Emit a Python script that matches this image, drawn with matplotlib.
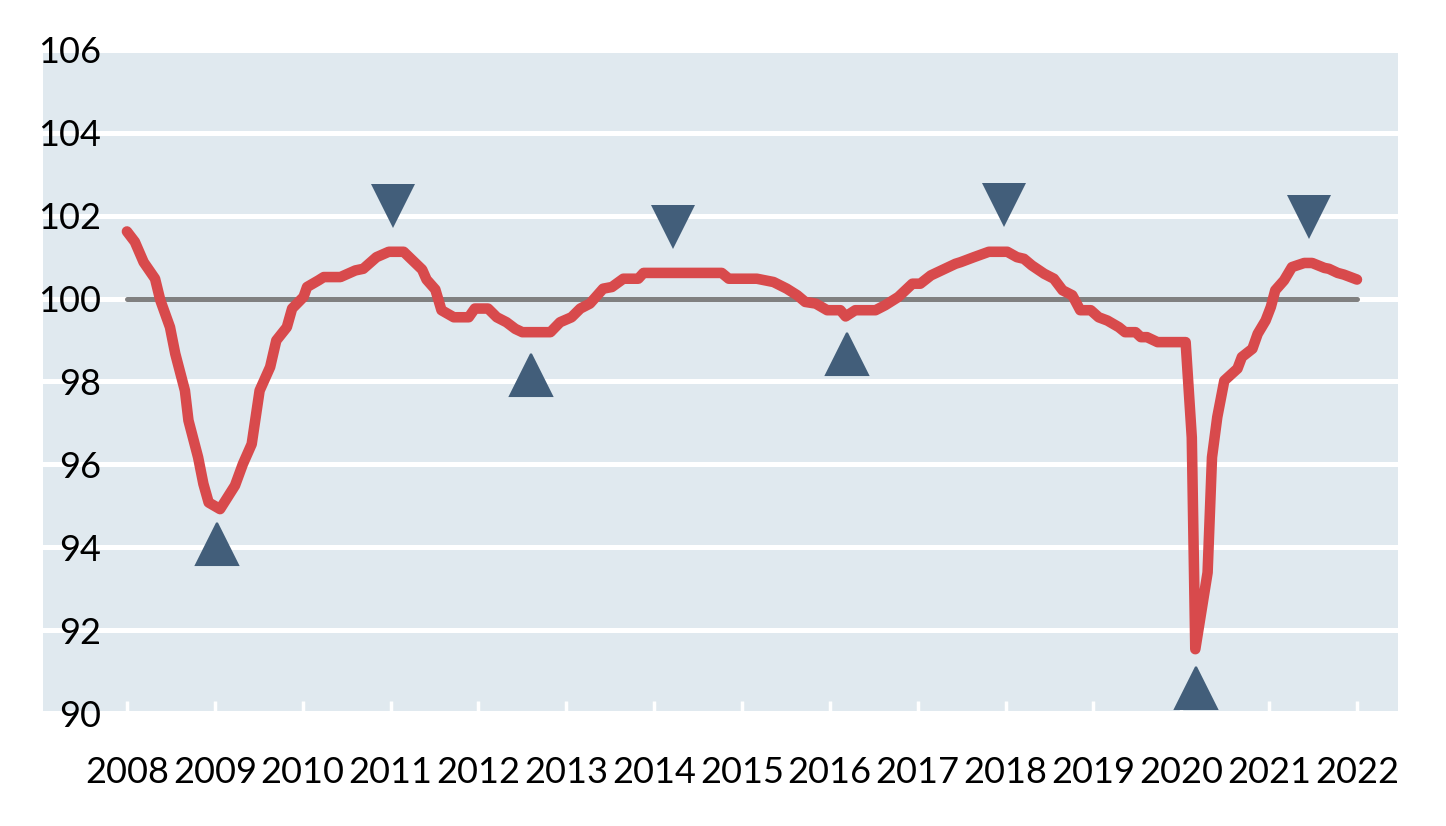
import numpy as np
import matplotlib.pyplot as plt

# index readings (decimal year, value)
years = [2008.00, 2008.09, 2008.19, 2008.32, 2008.38, 2008.49, 2008.55, 2008.66, 2008.70,
         2008.81, 2008.87, 2008.93, 2009.06, 2009.23, 2009.32, 2009.42, 2009.51, 2009.63,
         2009.70, 2009.82, 2009.88, 2010.01, 2010.05, 2010.18, 2010.24, 2010.43, 2010.60,
         2010.69, 2010.84, 2010.98, 2011.15, 2011.36, 2011.41, 2011.51, 2011.58, 2011.72,
         2011.89, 2011.96, 2012.11, 2012.21, 2012.32, 2012.42, 2012.50, 2012.82, 2012.93,
         2013.06, 2013.16, 2013.27, 2013.42, 2013.52, 2013.65, 2013.82, 2013.88, 2014.77,
         2014.85, 2015.17, 2015.36, 2015.51, 2015.63, 2015.72, 2015.84, 2015.97, 2016.12,
         2016.18, 2016.29, 2016.52, 2016.63, 2016.78, 2016.94, 2017.03, 2017.15, 2017.26,
         2017.43, 2017.49, 2017.64, 2017.81, 2018.02, 2018.13, 2018.21, 2018.30, 2018.44,
         2018.55, 2018.65, 2018.76, 2018.85, 2018.97, 2019.06, 2019.16, 2019.29, 2019.36,
         2019.48, 2019.54, 2019.61, 2019.73, 2020.05, 2020.12, 2020.16, 2020.30, 2020.35,
         2020.41, 2020.49, 2020.64, 2020.69, 2020.81, 2020.87, 2020.96, 2021.02, 2021.07,
         2021.17, 2021.26, 2021.40, 2021.49, 2021.63, 2021.68, 2021.78, 2021.85, 2022.00]
values = [101.62, 101.37, 100.88, 100.48, 99.96, 99.31, 98.67, 97.78, 97.06,
          96.17, 95.53, 95.08, 94.92, 95.49, 96.01, 96.49, 97.78, 98.35,
          98.99, 99.31, 99.76, 100.04, 100.28, 100.44, 100.52, 100.52, 100.68,
          100.72, 101.00, 101.13, 101.13, 100.70, 100.46, 100.22, 99.72, 99.55,
          99.55, 99.76, 99.76, 99.55, 99.43, 99.27, 99.19, 99.19, 99.43,
          99.55, 99.76, 99.88, 100.24, 100.28, 100.48, 100.48, 100.62, 100.62,
          100.48, 100.48, 100.40, 100.24, 100.08, 99.92, 99.88, 99.72, 99.72,
          99.57, 99.72, 99.72, 99.84, 100.04, 100.36, 100.36, 100.56, 100.67,
          100.84, 100.88, 101.00, 101.13, 101.13, 101.00, 100.96, 100.80, 100.60,
          100.48, 100.20, 100.08, 99.72, 99.72, 99.55, 99.47, 99.31, 99.19,
          99.19, 99.07, 99.07, 98.95, 98.95, 96.65, 91.54, 93.39, 96.17,
          97.14, 98.02, 98.31, 98.59, 98.79, 99.15, 99.47, 99.80, 100.20,
          100.44, 100.76, 100.86, 100.86, 100.74, 100.72, 100.62, 100.58, 100.46]

# turning points
peak_years = [2011.03, 2014.22, 2017.98, 2021.45]
peak_marks = [102.24, 101.73, 102.25, 101.97]
trough_years = [2009.02, 2012.60, 2016.19, 2020.17]
trough_marks = [94.07, 98.15, 98.67, 90.61]

tick_years = list(range(2008, 2023))
y_ticks = [90, 92, 94, 96, 98, 100, 102, 104, 106]

plt.rcParams['font.family'] = ['Lato', 'DejaVu Sans']

fig = plt.figure(figsize=(14.46, 8.26), dpi=100)
ax = fig.add_axes([0.0297, 0.1368, 0.9371, 0.8027])
ax.set_facecolor('#e0e9ef')

ax.set_xlim(2007.044, 2022.467)
ax.set_ylim(90, 106)
ax.set_yticks(y_ticks)
ax.set_xticks(tick_years)
ax.set_xticklabels([str(y) for y in tick_years])

ax.grid(axis='y', color='white', linewidth=3.6, zorder=1)
ax.set_axisbelow(True)
for s in ax.spines.values():
    s.set_visible(False)

ax.tick_params(axis='y', length=0, pad=-41.8, labelsize=26, labelcolor='black')
ax.tick_params(axis='x', direction='in', length=9, width=2.5, color='white',
               pad=31, labelsize=26, labelcolor='black')

ax.plot([2008, 2022], [100, 100], color='#808080', linewidth=3.6,
        solid_capstyle='round', zorder=3)
ax.plot(years, values, color='#d84a4c', linewidth=7.6,
        solid_capstyle='round', solid_joinstyle='round', zorder=4)

ax.plot(peak_years, peak_marks, linestyle='none', marker='v', markersize=32,
        color='#425e7a', markeredgewidth=0, zorder=5)
ax.plot(trough_years, trough_marks, linestyle='none', marker='^', markersize=30,
        color='#425e7a', markeredgecolor='#425e7a', markeredgewidth=1.5,
        zorder=5, clip_on=False)

fig.savefig('out.png', dpi=100)
